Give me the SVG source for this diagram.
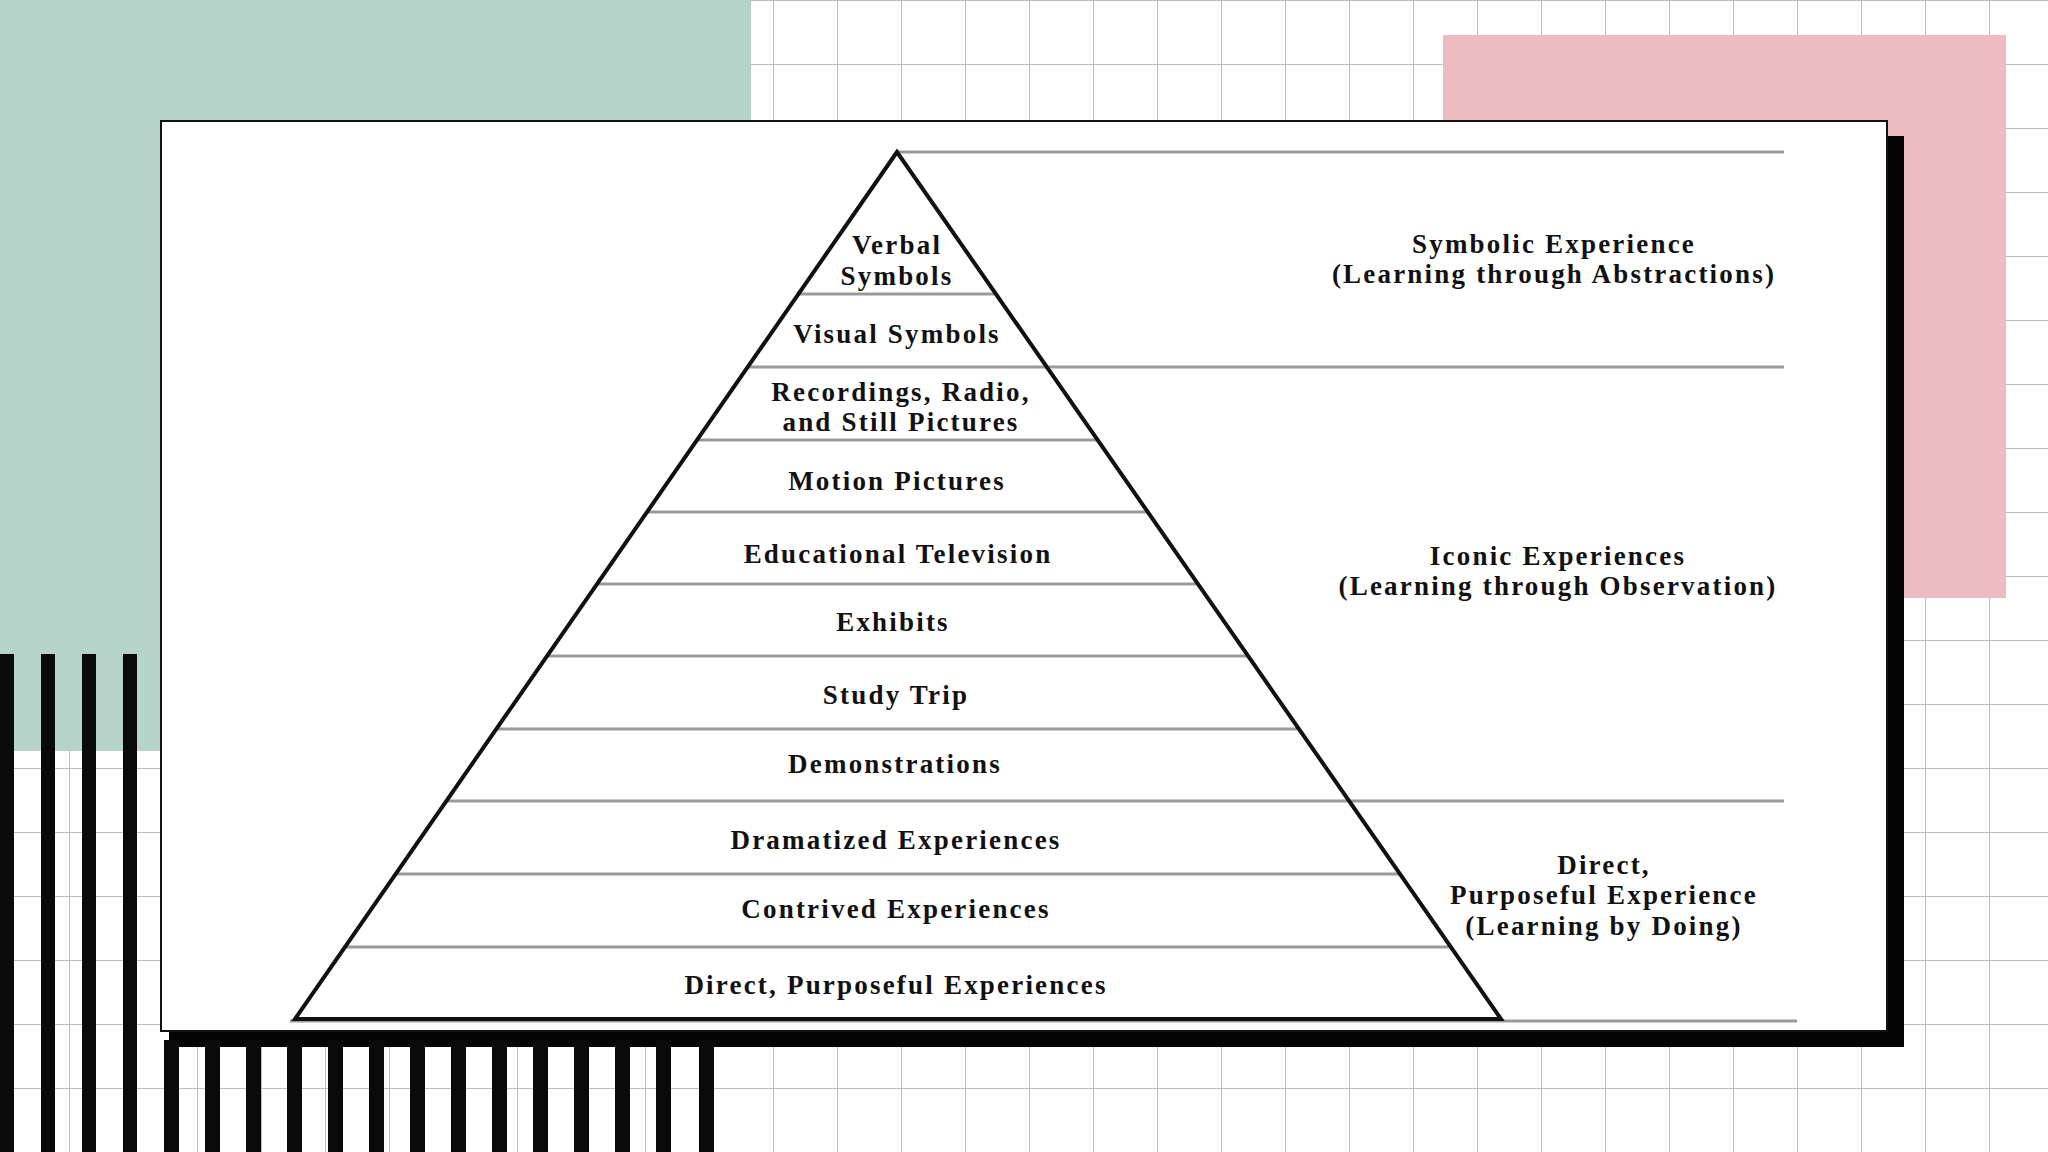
<svg xmlns="http://www.w3.org/2000/svg" width="2048" height="1152" viewBox="0 0 2048 1152">
<defs>
<pattern id="grid" x="5" y="0" width="64" height="64" patternUnits="userSpaceOnUse">
<path d="M0 0V64M0 0H64" stroke="#bdbdbd" stroke-width="2" fill="none"/>
</pattern>
<style>
.t{font-family:"Liberation Serif","Times New Roman",serif;font-size:27px;font-weight:bold;fill:#111;text-anchor:middle;letter-spacing:2.2px}
.g{stroke:#9a9a9a;stroke-width:3}
.s{fill:#0a0a0a}
</style>
</defs>
<rect width="2048" height="1152" fill="#fff"/>
<rect width="2048" height="1152" fill="url(#grid)"/>
<rect x="0" y="0" width="751" height="751" fill="#b7d4cb"/>
<rect x="1443" y="35" width="563" height="563" fill="#ecbcc2"/>
<g id="stripes-left">
<rect class="s" x="0" y="654" width="14" height="498"/>
<rect class="s" x="41" y="654" width="14" height="498"/>
<rect class="s" x="82" y="654" width="14" height="498"/>
<rect class="s" x="123" y="654" width="14" height="498"/>
</g>
<rect x="169" y="136" width="1735" height="911" fill="#050505"/>
<g id="stripes-bottom">
<rect class="s" x="164" y="1040" width="15" height="112"/>
<rect class="s" x="205" y="1040" width="15" height="112"/>
<rect class="s" x="246" y="1040" width="15" height="112"/>
<rect class="s" x="287" y="1040" width="15" height="112"/>
<rect class="s" x="328" y="1040" width="15" height="112"/>
<rect class="s" x="369" y="1040" width="15" height="112"/>
<rect class="s" x="410" y="1040" width="15" height="112"/>
<rect class="s" x="451" y="1040" width="15" height="112"/>
<rect class="s" x="492" y="1040" width="15" height="112"/>
<rect class="s" x="533" y="1040" width="15" height="112"/>
<rect class="s" x="574" y="1040" width="15" height="112"/>
<rect class="s" x="615" y="1040" width="15" height="112"/>
<rect class="s" x="656" y="1040" width="15" height="112"/>
<rect class="s" x="699" y="1040" width="15" height="112"/>
</g>
<rect x="161" y="121" width="1726" height="910" fill="#fff" stroke="#111" stroke-width="2"/>
<g id="connectors">
<line class="g" x1="897" y1="152" x2="1784" y2="152"/>
<line class="g" x1="798" y1="294" x2="996" y2="294"/>
<line class="g" x1="748" y1="367" x2="1784" y2="367"/>
<line class="g" x1="697" y1="440" x2="1097" y2="440"/>
<line class="g" x1="647" y1="512" x2="1147" y2="512"/>
<line class="g" x1="597" y1="584" x2="1197" y2="584"/>
<line class="g" x1="547" y1="656" x2="1248" y2="656"/>
<line class="g" x1="496" y1="729" x2="1298" y2="729"/>
<line class="g" x1="446" y1="801" x2="1784" y2="801"/>
<line class="g" x1="396" y1="874" x2="1399" y2="874"/>
<line class="g" x1="345" y1="947" x2="1450" y2="947"/>
<line class="g" x1="290" y1="1021" x2="1797" y2="1021"/>
<polygon points="897,152 295,1019 1501,1019" fill="none" stroke="#111" stroke-width="4" stroke-linejoin="miter"/>
</g>
<g id="n1"><text class="t" x="897" y="254">Verbal</text><text class="t" x="897" y="285">Symbols</text></g>
<g id="n2"><text class="t" x="897" y="343">Visual Symbols</text></g>
<g id="n3"><text class="t" x="901" y="401">Recordings, Radio,</text><text class="t" x="901" y="431">and Still Pictures</text></g>
<g id="n4"><text class="t" x="897" y="490">Motion Pictures</text></g>
<g id="n5"><text class="t" x="898" y="563">Educational Television</text></g>
<g id="n6"><text class="t" x="893" y="631">Exhibits</text></g>
<g id="n7"><text class="t" x="896" y="704">Study Trip</text></g>
<g id="n8"><text class="t" x="895" y="773">Demonstrations</text></g>
<g id="n9"><text class="t" x="896" y="849">Dramatized Experiences</text></g>
<g id="n10"><text class="t" x="896" y="918">Contrived Experiences</text></g>
<g id="n11"><text class="t" x="896" y="994">Direct, Purposeful Experiences</text></g>
<g id="r1"><text class="t" x="1554" y="253">Symbolic Experience</text><text class="t" x="1554" y="283">(Learning through Abstractions)</text></g>
<g id="r2"><text class="t" x="1558" y="565">Iconic Experiences</text><text class="t" x="1558" y="595">(Learning through Observation)</text></g>
<g id="r3"><text class="t" x="1604" y="874">Direct,</text><text class="t" x="1604" y="904">Purposeful Experience</text><text class="t" x="1604" y="935">(Learning by Doing)</text></g>
</svg>
